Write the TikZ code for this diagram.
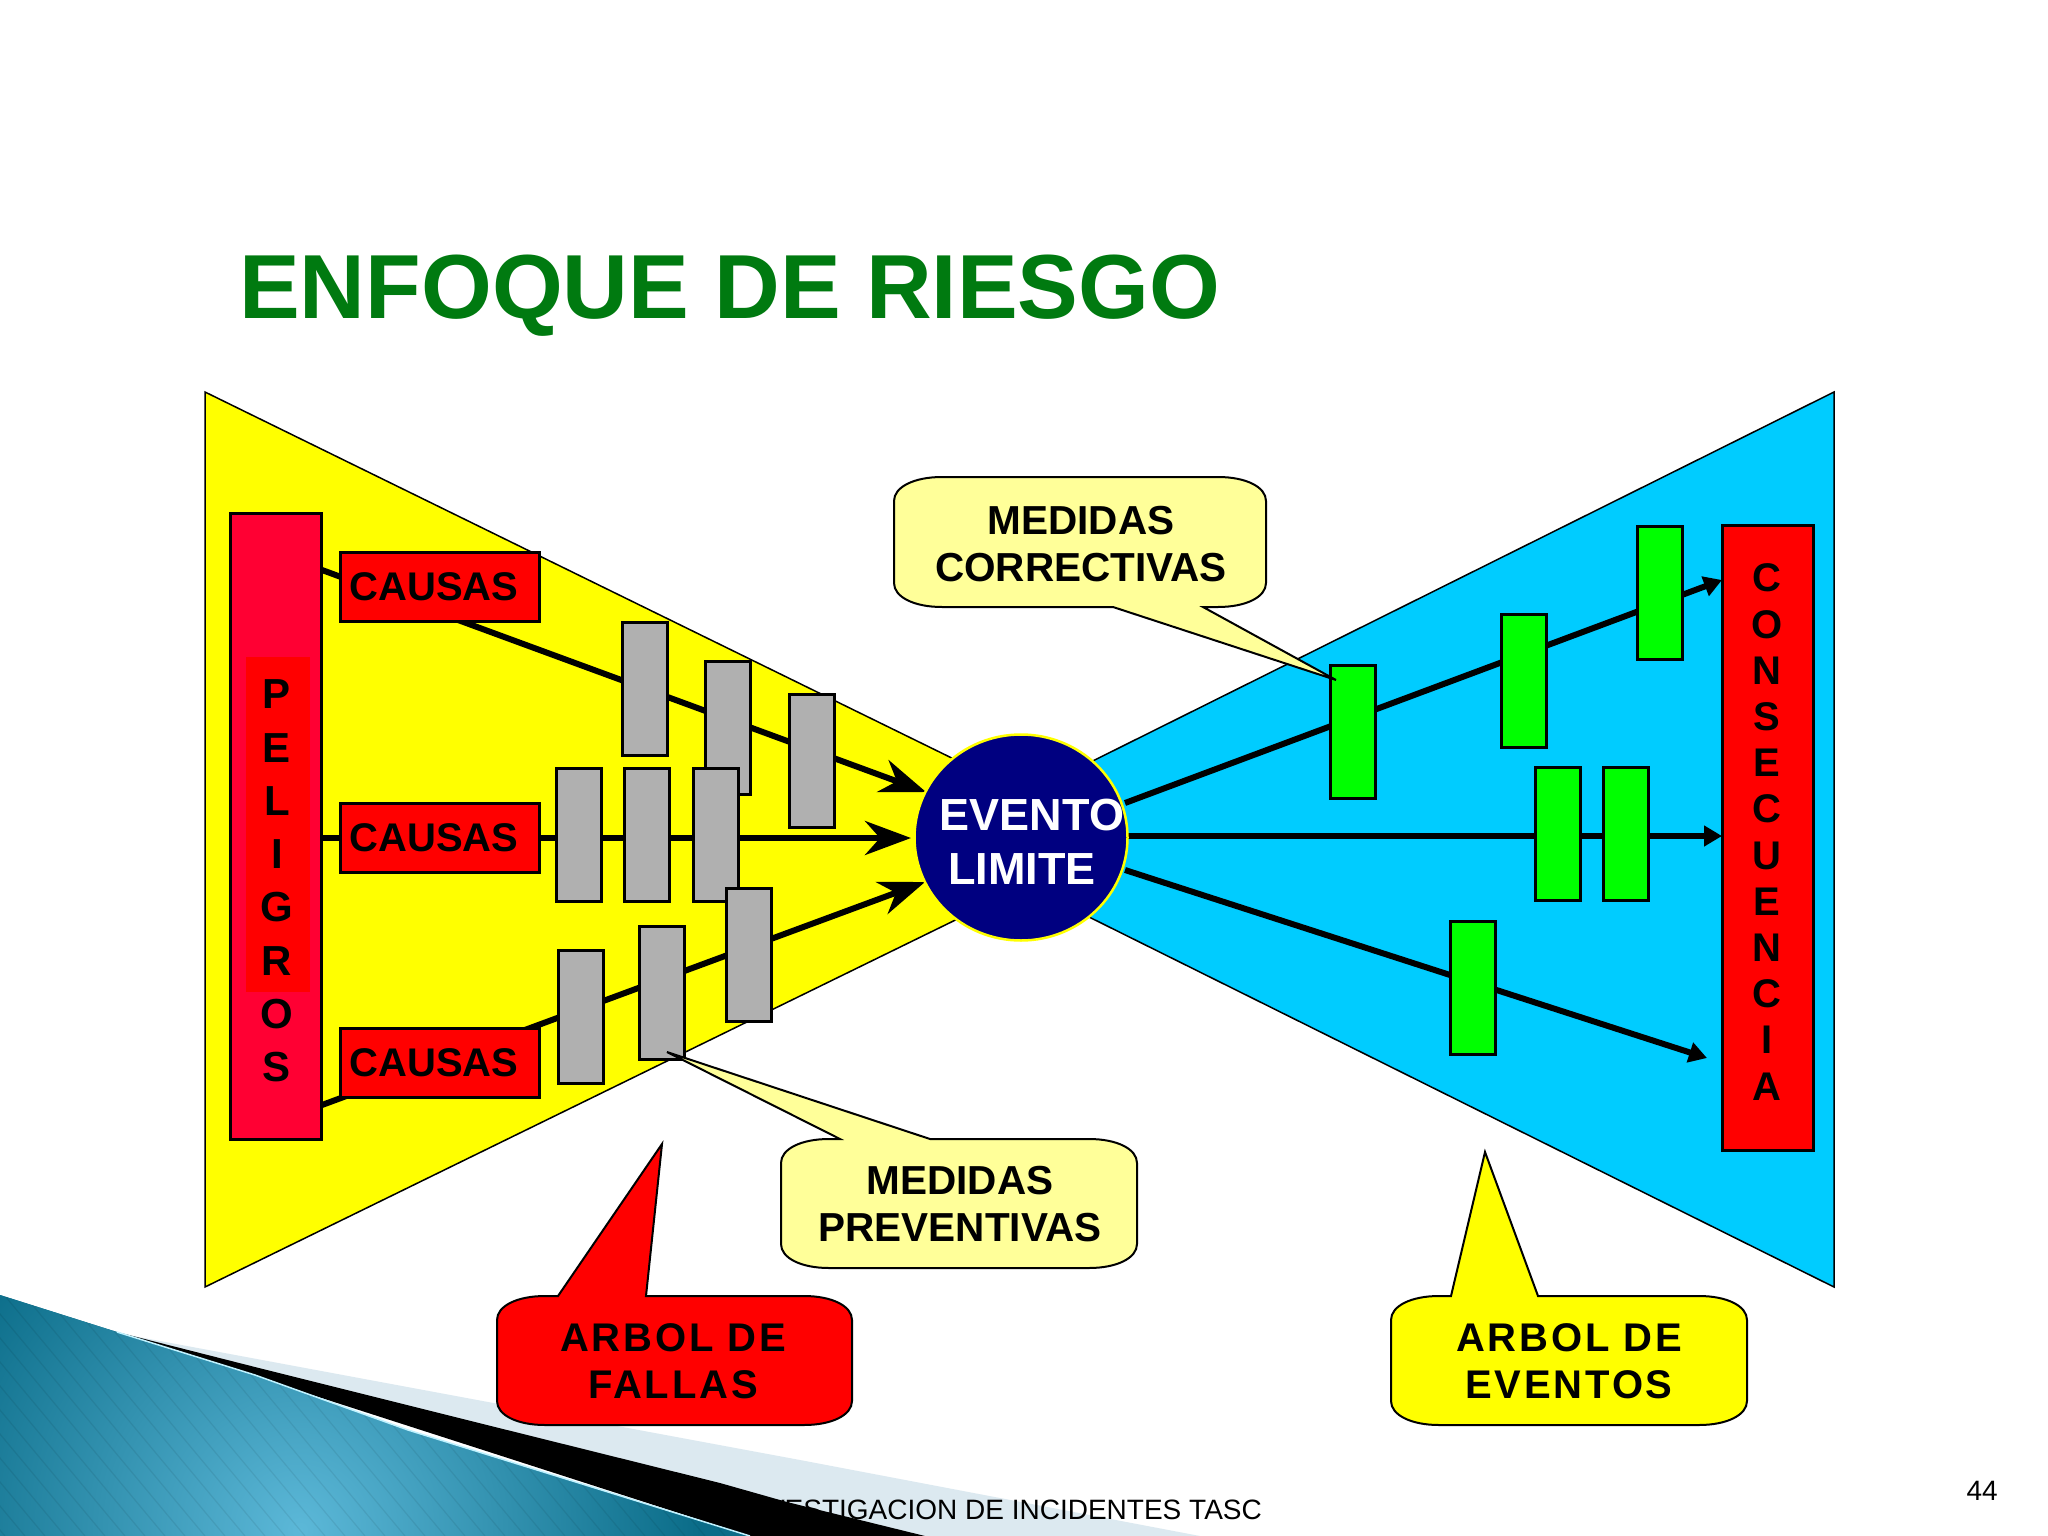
\documentclass[tikz,border=0pt]{standalone}
\usepackage{fontspec}
\setmainfont{Liberation Sans}
\usetikzlibrary{arrows.meta,calc,shapes.geometric}
\definecolor{titlegreen}{HTML}{007A10}
\definecolor{skyblue}{HTML}{00CCFF}
\definecolor{greybar}{HTML}{B0B0B0}
\definecolor{navy}{HTML}{000080}
\definecolor{palebubble}{HTML}{FFFF99}
\definecolor{hazard}{HTML}{FF0033}
\definecolor{palesteel}{HTML}{DCE9F0}
\definecolor{pureyellow}{rgb}{1,1,0}
\definecolor{purered}{rgb}{1,0,0}
\definecolor{puregreen}{rgb}{0,1,0}
\definecolor{teallight}{HTML}{5CB8D8}
\definecolor{tealdark}{HTML}{0A6C88}
\newcommand{\bubble}[7]{%
 \pgfmathsetmacro{\bbAx}{#2+48}\pgfmathsetmacro{\bbBx}{#4-48}
 \pgfmathsetmacro{\bbAy}{#3+24}\pgfmathsetmacro{\bbBy}{#5-24}
 \pgfmathsetmacro{\bbCx}{#2+20}\pgfmathsetmacro{\bbDx}{#4-20}
 \pgfmathsetmacro{\bbCy}{#3+10}\pgfmathsetmacro{\bbDy}{#5-10}
 \draw[#1] (\bbAx,#3) #6 -- (\bbBx,#3)
  .. controls (\bbDx,#3) and (#4,\bbCy) .. (#4,\bbAy) -- (#4,\bbBy)
  .. controls (#4,\bbDy) and (\bbDx,#5) .. (\bbBx,#5) #7 -- (\bbAx,#5)
  .. controls (\bbCx,#5) and (#2,\bbDy) .. (#2,\bbBy) -- (#2,\bbAy)
  .. controls (#2,\bbCy) and (\bbCx,#3) .. (\bbAx,#3) -- cycle;}
\tikzset{
 edge/.style={draw=black,line width=1.5pt},
 boxbase/.style={draw=black,line width=3pt,inner sep=0pt,outer sep=0pt},
 greybox/.style={boxbase,fill=greybar,minimum width=45pt,minimum height=133pt},
 greenbox/.style={boxbase,fill=puregreen,minimum width=45pt,minimum height=133pt},
 causebox/.style={boxbase,fill=purered,minimum width=199pt,minimum height=69pt,
   font=\fontsize{40}{42}\selectfont\bfseries,text=black},
 bigarrow/.style={line width=6pt,-{Stealth[length=46pt,width=34pt,inset=15pt]}},
 smallarrow/.style={line width=6pt,-{Triangle[length=18pt,width=20pt]}},
 bubbletext/.style={align=center,inner sep=0pt,font=\fontsize{40.5}{47}\selectfont\bfseries,text=black},
 spacedtext/.style={align=center,inner sep=0pt,font=\fontsize{40}{47}\selectfont\bfseries\addfontfeature{LetterSpace=7},text=black},
 bubbleline/.style={draw=black,line width=2pt,line join=miter}
}
\begin{document}
\begin{tikzpicture}[x=1pt,y=-1pt]
\useasboundingbox (0,0) rectangle (2048,1536);
\fill[white] (0,0) rectangle (2048,1536);

% title
\node[anchor=west,inner sep=0pt,text=titlegreen,font=\fontsize{91}{100}\selectfont\bfseries] (title) at (239,296) {ENFOQUE DE RIESGO};

% bow-tie wings
\draw[edge,fill=pureyellow] (205,392) -- (1119,840) -- (205,1287) -- cycle;
\draw[edge,fill=skyblue] (1834,392) -- (934,840) -- (1834,1287) -- cycle;

% end bars
\node[boxbase,fill=hazard,minimum width=91pt,minimum height=626pt] (hazardbar) at (276,826) {};
\fill[purered] (246,657) rectangle (310,992);
\node[boxbase,fill=purered,minimum width=91pt,minimum height=625pt] (consbar) at (1768,838) {};

% arrow ends
\coordinate (a1) at (322,570); \coordinate (a1e) at (926,792);
\coordinate (a2) at (322,838); \coordinate (a2e) at (911,838);
\coordinate (a3) at (322,1105); \coordinate (a3e) at (925,882);
\coordinate (r1) at (1125,803); \coordinate (r1e) at (1722,580);
\coordinate (r2) at (1110,836); \coordinate (r2e) at (1722,836);
\coordinate (r3) at (1125,870); \coordinate (r3e) at (1707,1058);
\draw[bigarrow] (a1) -- (a1e);
\draw[bigarrow] (a2) -- (a2e);
\draw[bigarrow] (a3) -- (a3e);

% causes
\node[causebox,text width=180pt,align=left] (c1) at (439.5,587) {CAUSAS};
\node[causebox,text width=180pt,align=left] (c2) at (439.5,838) {CAUSAS};
\node[causebox,text width=180pt,align=left] (c3) at (439.5,1063) {CAUSAS};

% barriers left
\node[greybox] (g1) at (644.5,689) {};
\node[greybox] (g2) at (728,727.5) {};
\node[greybox] (g3) at (811.5,761) {};
\node[greybox] (g4) at (579,835) {};
\node[greybox] (g5) at (647,835) {};
\node[greybox] (g6) at (715.5,835) {};
\node[greybox] (g7) at (580.5,1016.5) {};
\node[greybox] (g8) at (661.5,992.5) {};
\node[greybox] (g9) at (749,954.5) {};

% right arrows
\draw[smallarrow] (r1) -- (r1e);
\draw[smallarrow] (r2) -- (r2e);
\draw[smallarrow] (r3) -- (r3e);

% barriers right
\node[greenbox] (h1) at (1353,732) {};
\node[greenbox] (h2) at (1524,680.5) {};
\node[greenbox] (h3) at (1659.5,593) {};
\node[greenbox] (h4) at (1558,834) {};
\node[greenbox] (h5) at (1625.5,834) {};
\node[greenbox] (h6) at (1472.5,987.5) {};

% central event
\node[ellipse,draw=pureyellow,line width=2.5pt,fill=navy,minimum width=213pt,minimum height=206pt,inner sep=0pt] (evento) at (1021,837.5) {};
\node[inner sep=0pt,text=white,font=\fontsize{45}{47}\selectfont\bfseries] (ev1) at (1032,815) {EVENTO};
\node[inner sep=0pt,text=white,font=\fontsize{45}{47}\selectfont\bfseries] (ev2) at (1022,869) {LIMITE};

% vertical labels
\node[align=center,inner sep=0pt,font=\fontsize{42}{53.3}\selectfont\bfseries] (pel) at (277,881) {P\\E\\L\\I\\G\\R\\O\\S};
\node[align=center,inner sep=0pt,font=\fontsize{40}{46.2}\selectfont\bfseries] (cons) at (1767,832) {C\\O\\N\\S\\E\\C\\U\\E\\N\\C\\I\\A};

% footer backdrop
\fill[palesteel] (117,1333) -- (800,1460) -- (1200,1536) -- (754,1536) -- cycle;

% callouts
\bubble{bubbleline,fill=palebubble}{894}{477}{1266}{607}{}{-- (1203,607) -- (1336,680) -- (1113,607)}
\node[bubbletext] (mc) at (1081,544) {MEDIDAS\\CORRECTIVAS};
\bubble{bubbleline,fill=palebubble}{781}{1139}{1137}{1268}{-- (840,1139) -- (667,1052) -- (930,1139)}{}
\node[bubbletext] (mp) at (960,1204) {MEDIDAS\\PREVENTIVAS};
\bubble{bubbleline,fill=purered}{497}{1296}{852}{1425}{-- (558,1296) -- (662,1144) -- (646,1296)}{}
\node[spacedtext] (af) at (673,1361) {ARBOL DE\\FALLAS};
\bubble{bubbleline,fill=pureyellow}{1391}{1296}{1747}{1425}{-- (1451,1296) -- (1485,1152) -- (1538,1296)}{}
\node[spacedtext] (ae) at (1569,1361) {ARBOL DE\\EVENTOS};

% footer
\node[anchor=east,inner sep=0pt,font=\fontsize{28}{30}\selectfont] (foot) at (1262,1510) {INVESTIGACION DE INCIDENTES TASC};
\fill[black] (117,1332) -- (255,1367) -- (495,1427) -- (720,1483) -- (787,1502) -- (860,1520) -- (925,1536) -- (750,1536) -- cycle;
\begin{scope}
 \clip (0,1295) -- (117,1332) -- (255,1375) -- (408,1430) -- (750,1536) -- (0,1536) -- cycle;
 \fill[tealdark] (0,1290) rectangle (760,1536);
 \shade[inner color=teallight,outer color=tealdark] (300,1530) circle (400);
 \foreach \sx in {-200,-180,...,760}
   \draw[black,opacity=0.07,line width=1.2pt] (\sx,1290) -- ++(205,246);
\end{scope}
\draw[white!75!skyblue,line width=1.5pt] (117,1332) -- (255,1375) -- (408,1430) -- (750,1536);
\node[anchor=east,inner sep=0pt,font=\fontsize{28}{30}\selectfont] (page) at (1998,1491) {44};
\end{tikzpicture}
\end{document}
